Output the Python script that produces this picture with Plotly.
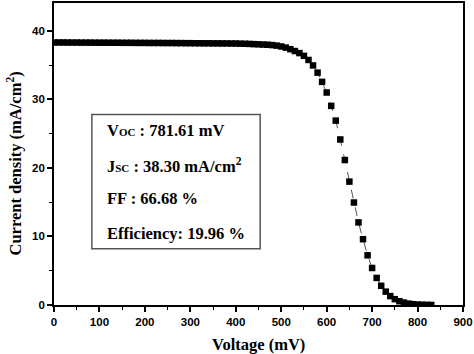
import plotly.graph_objects as go

voltage_mV = list(range(0, 840, 10))
current_density = [
    38.30, 38.30, 38.30, 38.29, 38.29, 38.29, 38.28, 38.28, 38.28, 38.27,
    38.27, 38.27, 38.26, 38.26, 38.26, 38.25, 38.25, 38.25, 38.24, 38.24,
    38.24, 38.23, 38.23, 38.23, 38.22, 38.22, 38.22, 38.21, 38.21, 38.20,
    38.20, 38.19, 38.19, 38.18, 38.18, 38.17, 38.17, 38.16, 38.16, 38.15,
    38.15, 38.13, 38.11, 38.09, 38.06, 38.03, 38.00, 37.97, 37.92, 37.84,
    37.72, 37.55, 37.32, 37.05, 36.75, 36.35, 35.75, 34.95, 33.90, 32.55,
    31.00, 29.05, 26.90, 24.15, 21.15, 18.00, 14.95, 12.05, 9.60, 7.25,
    5.40, 3.95, 2.80, 1.95, 1.30, 0.85, 0.55, 0.35, 0.20, 0.12,
    0.07, 0.04, 0.02, 0.01,
]

x_ticks = [0, 100, 200, 300, 400, 500, 600, 700, 800, 900]
y_ticks = [0, 10, 20, 30, 40]

info_lines = [
    "V<span style='font-size:11px'>OC</span> : 781.61 mV",
    "J<span style='font-size:11px'>SC</span> : 38.30 mA/cm<sup>2</sup>",
    "FF : 66.68 %",
    "Efficiency: 19.96 %",
]
info_y = [25.5, 20.3, 15.5, 10.4]

fig = go.Figure()
fig.add_trace(go.Scatter(
    x=voltage_mV, y=current_density, mode="lines+markers",
    line=dict(color="#555555", width=1, dash="dash"),
    marker=dict(symbol="square", size=6.5, color="black"),
    showlegend=False,
))

serif = "Times New Roman, Liberation Serif, serif"
sans = "Arial, Liberation Sans, sans-serif"

fig.update_layout(
    width=474, height=354,
    margin=dict(l=54, r=10, t=1, b=49),
    paper_bgcolor="white", plot_bgcolor="white",
)
fig.update_xaxes(
    range=[0, 900], tickvals=x_ticks, ticktext=[f"<b>{v}</b>" for v in x_ticks],
    ticks="outside", ticklen=5, tickwidth=1.5,
    tickcolor="black", showline=True, linecolor="black", linewidth=1.8, mirror=True,
    showgrid=False, zeroline=False,
    tickfont=dict(family=sans, size=11.5, color="black"),
    minor=dict(dtick=50, ticks="outside", ticklen=3, tickwidth=1.2, tickcolor="black", showgrid=False),
)
fig.update_yaxes(
    range=[0, 44.06], tickvals=y_ticks, ticktext=[f"<b>{v}</b>" for v in y_ticks],
    ticks="outside", ticklen=5, tickwidth=1.5,
    tickcolor="black", showline=True, linecolor="black", linewidth=1.8, mirror=True,
    showgrid=False, zeroline=False,
    tickfont=dict(family=sans, size=11.5, color="black"),
    minor=dict(dtick=5, ticks="outside", ticklen=3, tickwidth=1.2, tickcolor="black", showgrid=False),
)

fig.add_shape(type="rect", xref="x", yref="y", x0=83.3, x1=453.7, y0=8.2, y1=27.8,
              line=dict(color="#555555", width=1.5), fillcolor="rgba(0,0,0,0)")
for txt, yv in zip(info_lines, info_y):
    fig.add_annotation(x=112.5, y=yv, xref="x", yref="y", text=txt, showarrow=False,
                       xanchor="left", yanchor="middle",
                       font=dict(family=serif, size=16.5, color="black", weight="bold"))

fig.add_annotation(x=0.5, y=-0.1316, xref="paper", yref="paper", text="Voltage (mV)",
                   showarrow=False, xanchor="center", yanchor="middle",
                   font=dict(family=serif, size=16.5, color="black", weight="bold"))
fig.add_annotation(x=-0.0967, y=0.47, xref="paper", yref="paper",
                   text="Current density (mA/cm<sup>2</sup>)", textangle=-90,
                   showarrow=False, xanchor="center", yanchor="middle",
                   font=dict(family=serif, size=16.5, color="black", weight="bold"))

fig.write_html("out.html")
